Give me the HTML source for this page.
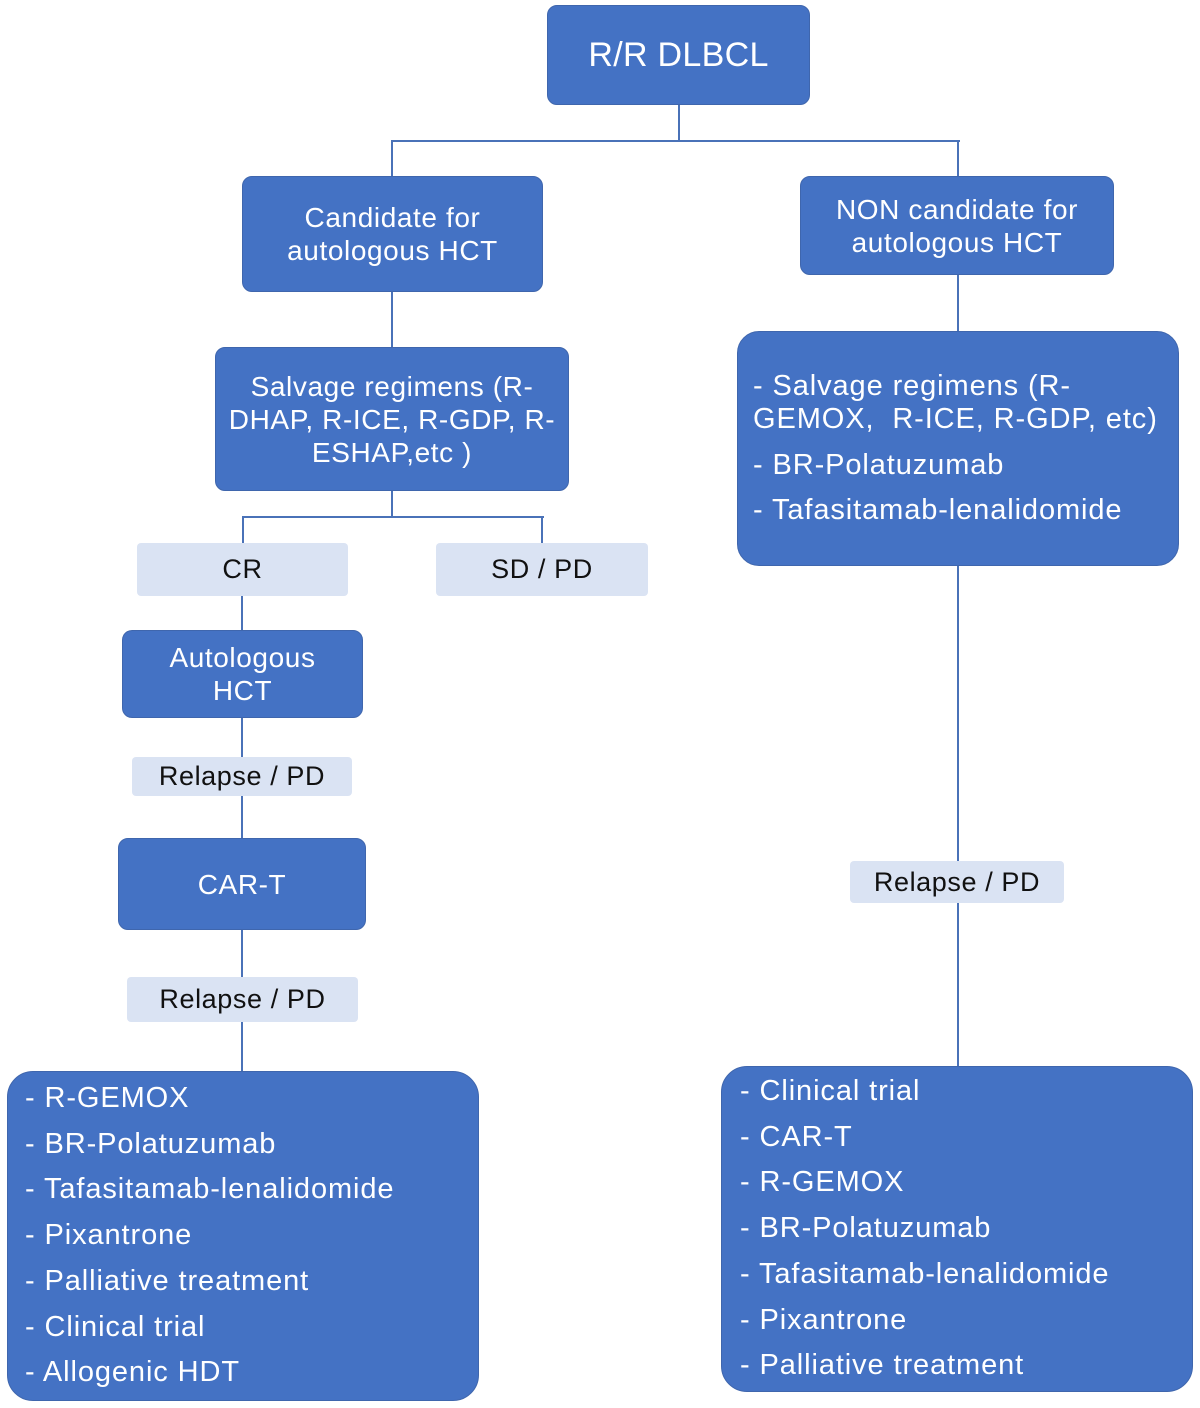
<!DOCTYPE html>
<html><head><meta charset="utf-8"><style>
body{margin:0;width:1200px;height:1408px;background:#fff;position:relative;overflow:hidden;font-family:"Liberation Sans",sans-serif;}
.b{position:absolute;background:#4472C4;color:#fff;border-radius:10px;box-sizing:border-box;display:flex;align-items:center;justify-content:center;text-align:center;font-size:28px;letter-spacing:0.6px;line-height:33px;border:1px solid #3f66ad;}
.l{position:absolute;background:#DAE3F3;color:#111;border-radius:4px;display:flex;align-items:center;justify-content:center;font-size:27px;letter-spacing:0.6px;}
.h{position:absolute;background:#4A72B8;height:2px;}
.v{position:absolute;background:#4A72B8;width:2px;}
.t{position:absolute;color:#fff;font-size:29px;letter-spacing:0.9px;white-space:nowrap;line-height:30px;}
</style></head><body>
<div class="v" style="left:678px;top:105px;height:37px"></div>
<div class="h" style="left:391px;top:140px;width:569px"></div>
<div class="v" style="left:391px;top:140px;height:36px"></div>
<div class="v" style="left:957px;top:140px;height:36px"></div>
<div class="v" style="left:391px;top:292px;height:55px"></div>
<div class="v" style="left:957px;top:275px;height:56px"></div>
<div class="v" style="left:391px;top:491px;height:27px"></div>
<div class="h" style="left:242px;top:516px;width:302px"></div>
<div class="v" style="left:242px;top:516px;height:27px"></div>
<div class="v" style="left:541px;top:516px;height:27px"></div>
<div class="v" style="left:241px;top:596px;height:475px"></div>
<div class="v" style="left:957px;top:566px;height:500px"></div>

<div class="b" style="left:547px;top:5px;width:263px;height:100px;font-size:34px;letter-spacing:0.3px">R/R DLBCL</div>
<div class="b" style="left:242px;top:176px;width:301px;height:116px">Candidate for<br>autologous HCT</div>
<div class="b" style="left:800px;top:176px;width:314px;height:99px">NON candidate for<br>autologous HCT</div>
<div class="b" style="left:215px;top:347px;width:354px;height:144px">Salvage regimens (R-<br>DHAP, R-ICE, R-GDP, R-<br>ESHAP,etc )</div>
<div class="b" style="left:737px;top:331px;width:442px;height:235px;border-radius:22px"></div>
<div class="t" style="left:753px;top:371px">- Salvage regimens (R-</div>
<div class="t" style="left:753px;top:404px">GEMOX,&nbsp; R-ICE, R-GDP, etc)</div>
<div class="t" style="left:753px;top:450px">- BR-Polatuzumab</div>
<div class="t" style="left:753px;top:495px">- Tafasitamab-lenalidomide</div>

<div class="l" style="left:137px;top:543px;width:211px;height:53px">CR</div>
<div class="l" style="left:436px;top:543px;width:212px;height:53px">SD / PD</div>
<div class="b" style="left:122px;top:630px;width:241px;height:88px">Autologous<br>HCT</div>
<div class="l" style="left:132px;top:757px;width:220px;height:39px">Relapse / PD</div>
<div class="b" style="left:118px;top:838px;width:248px;height:92px">CAR-T</div>
<div class="l" style="left:127px;top:977px;width:231px;height:45px">Relapse / PD</div>
<div class="l" style="left:850px;top:861px;width:214px;height:42px">Relapse / PD</div>

<div class="b" style="left:7px;top:1071px;width:472px;height:330px;border-radius:26px"></div>
<div class="t" style="left:25px;top:1083px">- R-GEMOX</div>
<div class="t" style="left:25px;top:1129px">- BR-Polatuzumab</div>
<div class="t" style="left:25px;top:1174px">- Tafasitamab-lenalidomide</div>
<div class="t" style="left:25px;top:1220px">- Pixantrone</div>
<div class="t" style="left:25px;top:1266px">- Palliative treatment</div>
<div class="t" style="left:25px;top:1312px">- Clinical trial</div>
<div class="t" style="left:25px;top:1357px">- Allogenic HDT</div>

<div class="b" style="left:721px;top:1066px;width:472px;height:326px;border-radius:26px"></div>
<div class="t" style="left:740px;top:1076px">- Clinical trial</div>
<div class="t" style="left:740px;top:1122px">- CAR-T</div>
<div class="t" style="left:740px;top:1167px">- R-GEMOX</div>
<div class="t" style="left:740px;top:1213px">- BR-Polatuzumab</div>
<div class="t" style="left:740px;top:1259px">- Tafasitamab-lenalidomide</div>
<div class="t" style="left:740px;top:1305px">- Pixantrone</div>
<div class="t" style="left:740px;top:1350px">- Palliative treatment</div>
</body></html>
